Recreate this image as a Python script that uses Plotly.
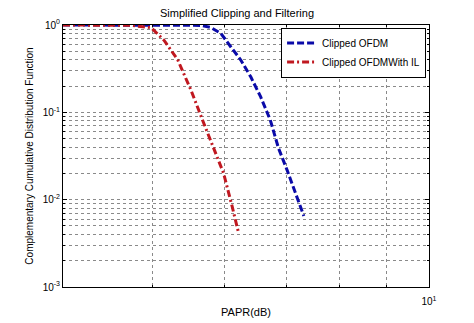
import plotly.graph_objects as go
import numpy as np

# Data
papr_ofdm = [4.0, 5.0, 5.33, 5.65, 5.79, 5.94, 6.09, 6.24, 6.40, 6.56, 6.72, 6.86, 7.01, 7.16, 7.31]
ccdf_ofdm = [1.0, 1.0, 1.0, 0.99, 0.94, 0.80, 0.56, 0.40, 0.255, 0.151, 0.082, 0.039, 0.0218, 0.0119, 0.0065]

papr_il = [4.0, 4.51, 4.75, 4.99, 5.15, 5.33, 5.51, 5.69, 5.83, 5.98, 6.11, 6.21]
ccdf_il = [1.0, 1.0, 0.99, 0.93, 0.67, 0.40, 0.18, 0.075, 0.040, 0.020, 0.0083, 0.0041]

x_major = [10]
x_major_labels = ["10<sup>1</sup>"]
x_minor = [5, 6, 7, 8, 9]
y_major = [0.001, 0.01, 0.1, 1.0]
y_major_labels = ["10<sup>-3</sup>", "10<sup>-2</sup>", "10<sup>-1</sup>", "10<sup>0</sup>"]
y_minor = [m * 10.0 ** e for e in [-3, -2, -1] for m in range(2, 10)]

font = "Liberation Sans, Arial, sans-serif"

fig = go.Figure()
fig.add_trace(go.Scatter(x=papr_ofdm, y=ccdf_ofdm, mode="lines", name="Clipped OFDM",
                         line=dict(color="#0a0aa8", width=3, dash="7px,3px")))
fig.add_trace(go.Scatter(x=papr_il, y=ccdf_il, mode="lines", name="Clipped OFDMWith IL",
                         line=dict(color="#c01820", width=3, dash="7px,3px,2px,3px")))

grid = dict(gridcolor="#8a8a8a", gridwidth=1, griddash="dot")
axis_common = dict(showline=True, linecolor="black", linewidth=1, mirror="ticks",
                   ticks="inside", ticklen=4, tickcolor="black",
                   showgrid=True, zeroline=False, automargin=False,
                   tickfont=dict(size=10, color="black", family=font), **grid)

fig.update_layout(
    width=474, height=323,
    margin=dict(l=63, r=45, t=25, b=36),
    paper_bgcolor="white", plot_bgcolor="white",
    title=dict(text="Simplified Clipping and Filtering", x=0.5, xanchor="center",
               y=0.96, yanchor="middle", font=dict(size=11, color="black", family=font)),
    xaxis=dict(type="log", range=[np.log10(4), 1], tickmode="array",
               tickvals=x_major, ticktext=x_major_labels, ticklabelstandoff=5,
               minor=dict(tickmode="array", tickvals=x_minor, ticks="inside", ticklen=2,
                          tickcolor="black", showgrid=True, **grid),
               title=dict(text="PAPR(dB)", font=dict(size=11, color="black", family=font), standoff=2),
               **axis_common),
    yaxis=dict(type="log", range=[-3, 0], tickmode="array",
               tickvals=y_major, ticktext=y_major_labels,
               minor=dict(tickmode="array", tickvals=y_minor, ticks="inside", ticklen=2,
                          tickcolor="black", showgrid=True, **grid),
               title=dict(text="Complementary Cumulative Distribution Function",
                          font=dict(size=10, color="black", family=font), standoff=7),
               **axis_common),
    legend=dict(x=0.992, y=0.99, xanchor="right", yanchor="top",
                bgcolor="white", bordercolor="black", borderwidth=1,
                font=dict(size=10, color="black", family=font),
                itemwidth=30, tracegroupgap=0),
    showlegend=True,
)

fig.write_html("out.html")
